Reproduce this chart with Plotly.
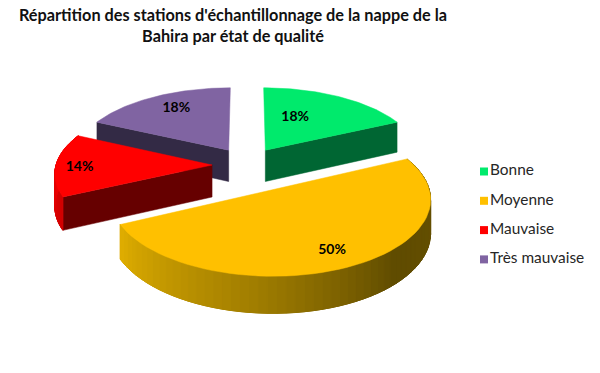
import math
import plotly.graph_objects as go

# ---- data ----
categories = ["Bonne", "Moyenne", "Mauvaise", "Très mauvaise"]
values = [18, 50, 14, 18]
title_lines = ["Répartition des stations d'échantillonnage de la nappe de la",
               "Bahira par état de qualité"]

# ---- style ----
top_colors = ["#00EA6C", "#FFC000", "#FF0000", "#8064A2"]
side_colors = ["#006633", "#665000", "#660000", "#332A45"]
explode = [0.233, 0.35, 0.233, 0.233]
rim_x = [1.04, 1.025, 1.04, 1.04]
label_radius = [0.52, 0.76, 0.88, 0.72]
label_angle = [25, 152, 268, 327.4]
wall_stops = {
    1: [(64.8, (0x6A, 0x53, 0x00)), (135, (0x60, 0x4C, 0x00)), (185, (0xA0, 0x7D, 0x00)), (244.8, (0xE0, 0xAE, 0x00))],
    2: [(244.8, (0xD0, 0x00, 0x00)), (295.2, (0xFF, 0x00, 0x00))],
}
X0, Y0, A, B, K, DEPTH = 247, 165, 150, 77, 0.11, 32
RY = 0.93


def project(X, Y, z=0):
    s = 1 / (1 + K * Y)
    return X0 + A * X * s, Y0 - B * Y * s + z * DEPTH * s


def rim(t, off, rx):
    r = math.radians(t)
    return off[0] + rx * math.sin(r), off[1] + RY * math.cos(r)


def interp(stops, t):
    for (t0, c0), (t1, c1) in zip(stops, stops[1:]):
        if t <= t1:
            f = max(0, (t - t0) / (t1 - t0))
            return "rgb(%d,%d,%d)" % tuple(c0[i] + (c1[i] - c0[i]) * f for i in range(3))
    return "rgb(%d,%d,%d)" % stops[-1][1]


def poly(fig, pts, color, lw=0.5):
    xs = [p[0] for p in pts] + [pts[0][0]]
    ys = [p[1] for p in pts] + [pts[0][1]]
    fig.add_trace(go.Scatter(x=xs, y=ys, mode="lines", fill="toself", fillcolor=color,
                             line=dict(color=color, width=lw), hoverinfo="skip", showlegend=False))


total = sum(values)
spans, acc = [], 0.0
for v in values:
    spans.append((acc, acc + v / total * 360))
    acc += v / total * 360

fig = go.Figure()
order = [3, 0, 2, 1]
cut_edge = {0: 1, 2: 0, 3: 0}  # which radial face of the slice faces the viewer
labels = {}
for i in order:
    t0, t1 = spans[i]
    mid = math.radians((t0 + t1) / 2)
    off = (explode[i] * math.sin(mid), explode[i] * math.cos(mid))
    rx = rim_x[i]
    n = 60
    ts = [t0 + (t1 - t0) * k / n for k in range(n + 1)]

    if i in cut_edge:
        p = rim(spans[i][cut_edge[i]], off, rx)
        poly(fig, [project(*off), project(*p), project(*p, 1), project(*off, 1)], side_colors[i])

    if i in wall_stops:
        for a, b in zip(ts, ts[1:]):
            pa, pb = rim(a, off, rx), rim(min(b + (t1 - t0) / n, t1), off, rx)
            poly(fig, [project(*pa), project(*pb), project(*pb, 1), project(*pa, 1)],
                 interp(wall_stops[i], (a + b) / 2), lw=1)

    poly(fig, [project(*off)] + [project(*rim(t, off, rx)) for t in ts], top_colors[i])

    la = math.radians(label_angle[i])
    labels[i] = project(off[0] + label_radius[i] * math.sin(la),
                        off[1] + label_radius[i] * math.cos(la))

fig.add_trace(go.Scatter(
    x=[labels[i][0] for i in range(4)], y=[labels[i][1] for i in range(4)],
    mode="text", text=["%d%%" % v for v in values],
    textfont=dict(family="Lato", size=14, color="#000000", weight=700),
    hoverinfo="skip", showlegend=False))

fig.add_trace(go.Scatter(
    x=[484] * 4, y=[171.5 + 29.3 * k for k in range(4)],
    mode="markers+text", text=categories, textposition="middle right",
    marker=dict(symbol="square", size=8, color=top_colors),
    textfont=dict(family="Lato", size=15.4, color="#262626"),
    hoverinfo="skip", showlegend=False))

fig.update_layout(
    width=600, height=373, margin=dict(l=0, r=0, t=0, b=0),
    paper_bgcolor="white", plot_bgcolor="white", showlegend=False,
    xaxis=dict(range=[0, 600], visible=False, fixedrange=True),
    yaxis=dict(range=[373, 0], visible=False, fixedrange=True),
    title=dict(text="<br>".join(title_lines), x=233 / 600, xanchor="center",
               y=0.945, yanchor="top",
               font=dict(family="Lato", size=16.3, color="#111111", weight=700)),
)
fig.write_html("out.html", config=dict(displayModeBar=False),
               post_script="document.body.style.margin='0';")
